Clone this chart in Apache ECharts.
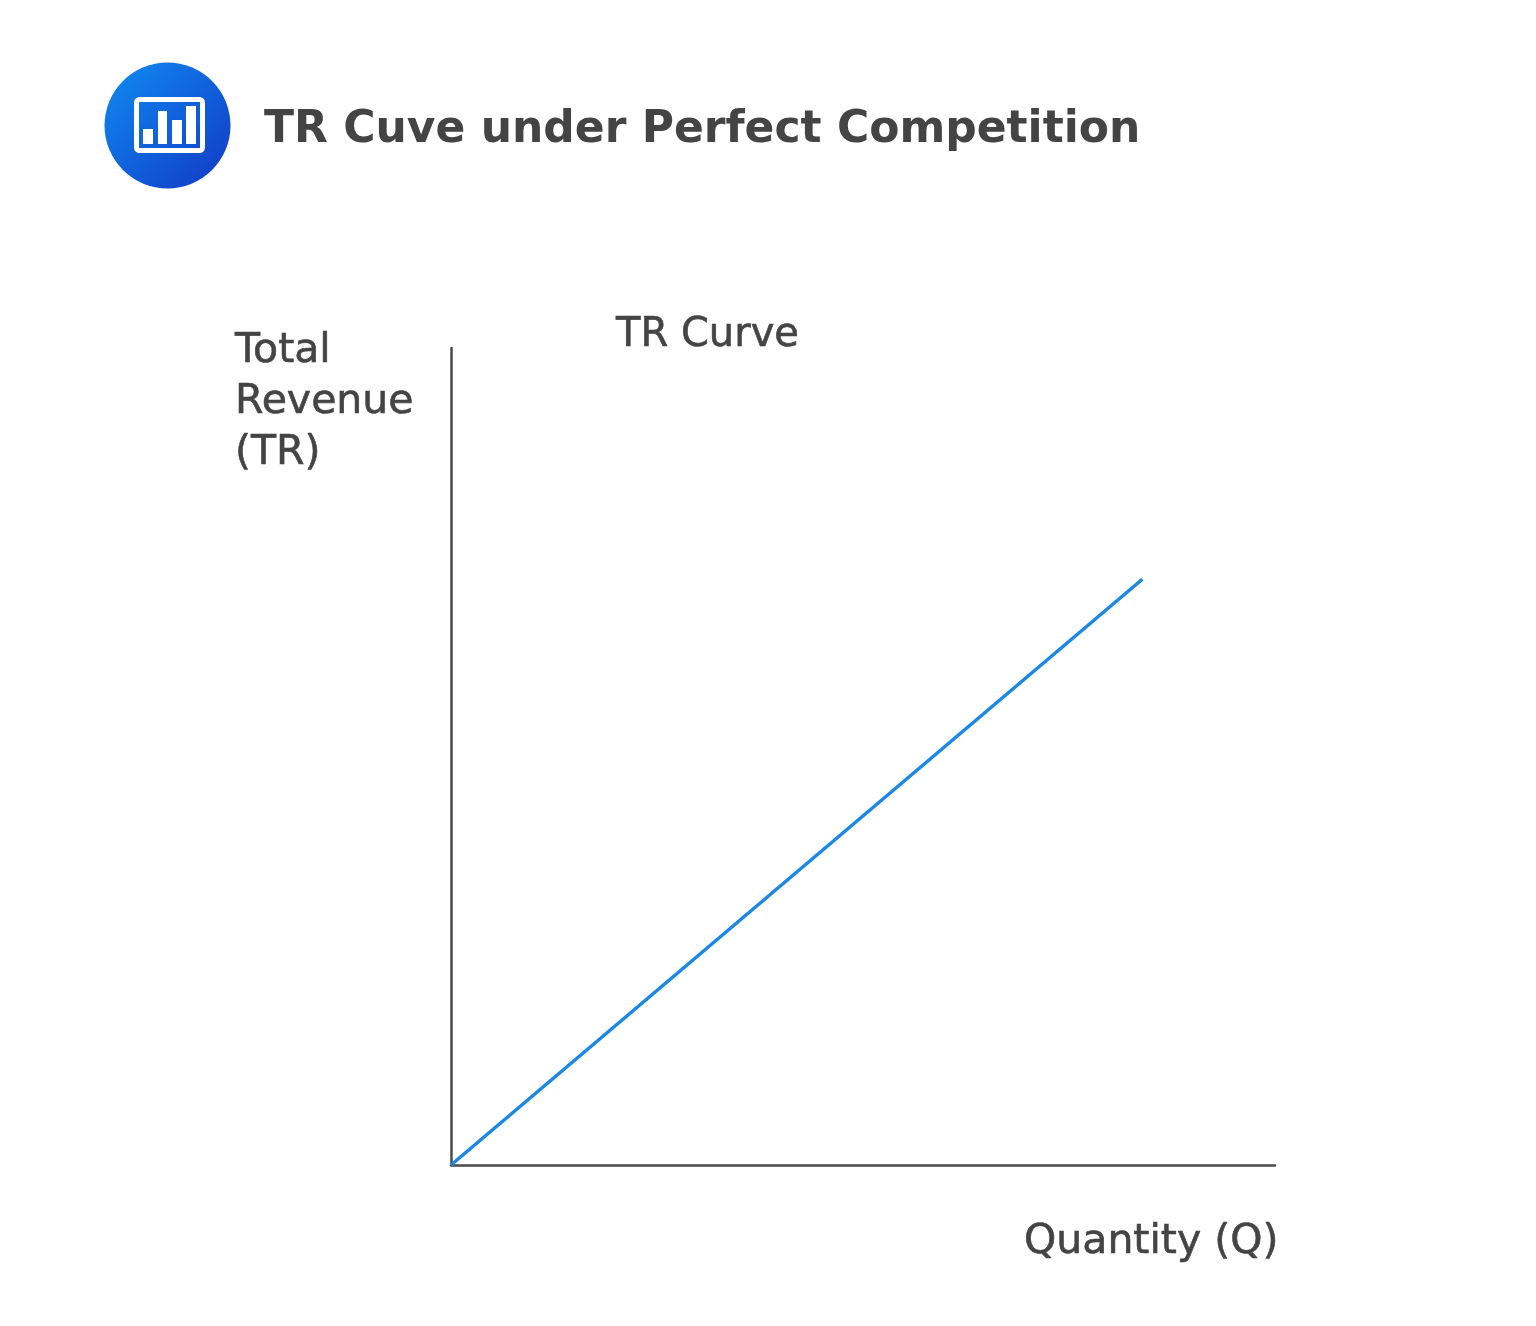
<!DOCTYPE html>
<html>
	<head>
		<meta charset="UTF-8">
		<title>TR Curve</title>
		<style>
			html,body{margin:0;padding:0;background:#fff;}
		</style>
	</head>
	<body>
		<div id='chart' style="width:1536px;height:1326px;"></div>
	</body>
	<script type="text/javascript" src="https://cdn.jsdelivr.net/npm/echarts@6/dist/echarts.min.js"></script>
	<script>
		var quantity=[0,83.9];
		var revenue=[0,71.7];
		var chartTitle="TR Cuve under Perfect Competition";
		var curveName="TR Curve";
		var yName="Total\nRevenue\n(TR)";
		var xName="Quantity (Q)";
		var iconBars=[[143,129,10,15],[158,111,9,33],[172,120,10,24],[186,106,10,38]];

		var textColor="#444444";
		var fontName="DejaVu Sans";

		var points=[];
		for(var i=0;i<quantity.length;i++){
			points.push([quantity[i],revenue[i]]);
		}

		//icon in the top left corner
		var icon=[
			{
				type:'circle',
				shape:{cx:167.5,cy:125.5,r:63},
				style:{
					fill:new echarts.graphic.LinearGradient(0,0,1,1,[
						{offset:0,color:'#0f8cf2'},
						{offset:1,color:'#1238c4'}
					])
				}
			},
			{
				type:'rect',
				shape:{x:136.5,y:99.5,width:66,height:51,r:3},
				style:{fill:'none',stroke:'#fff',lineWidth:5}
			}
		];
		for(var j=0;j<iconBars.length;j++){
			icon.push({
				type:'rect',
				shape:{x:iconBars[j][0],y:iconBars[j][1],width:iconBars[j][2],height:iconBars[j][3]},
				style:{fill:'#fff'}
			});
		}

		var chart=echarts.init(document.getElementById('chart'));
		var option={
			animation:false,
			backgroundColor:'#fff',
			title:[
				{
					text:chartTitle,
					left:264,
					top:109,
					padding:0,
					textStyle:{color:textColor,fontFamily:fontName,fontSize:44,fontWeight:700}
				},
				{
					text:curveName,
					left:616,
					top:316,
					padding:0,
					textStyle:{color:textColor,fontFamily:fontName,fontSize:40,fontWeight:400,textBorderColor:textColor,textBorderWidth:0.6}
				},
				{
					text:yName,
					left:235,
					top:326,
					padding:0,
					textStyle:{color:textColor,fontFamily:fontName,fontSize:41,fontWeight:400,lineHeight:51,textBorderColor:textColor,textBorderWidth:0.6}
				},
				{
					text:xName,
					left:1024,
					top:1222,
					padding:0,
					textStyle:{color:textColor,fontFamily:fontName,fontSize:41,fontWeight:400,textBorderColor:textColor,textBorderWidth:0.6}
				}
			],
			grid:{left:451,top:348,width:824,height:817},
			xAxis:{
				type:'value',
				min:0,
				max:100,
				axisTick:{show:false},
				axisLabel:{show:false},
				splitLine:{show:false},
				axisLine:{show:true,lineStyle:{color:'#4a4a4a',width:2.5}}
			},
			yAxis:{
				type:'value',
				min:0,
				max:100,
				axisTick:{show:false},
				axisLabel:{show:false},
				splitLine:{show:false},
				axisLine:{show:true,lineStyle:{color:'#4a4a4a',width:2.5}}
			},
			series:[
				{
					name:curveName,
					type:'line',
					data:points,
					showSymbol:false,
					silent:true,
					lineStyle:{color:'#1b87e6',width:3.5}
				}
			],
			graphic:icon
		};
		chart.setOption(option);
	</script>
</html>
